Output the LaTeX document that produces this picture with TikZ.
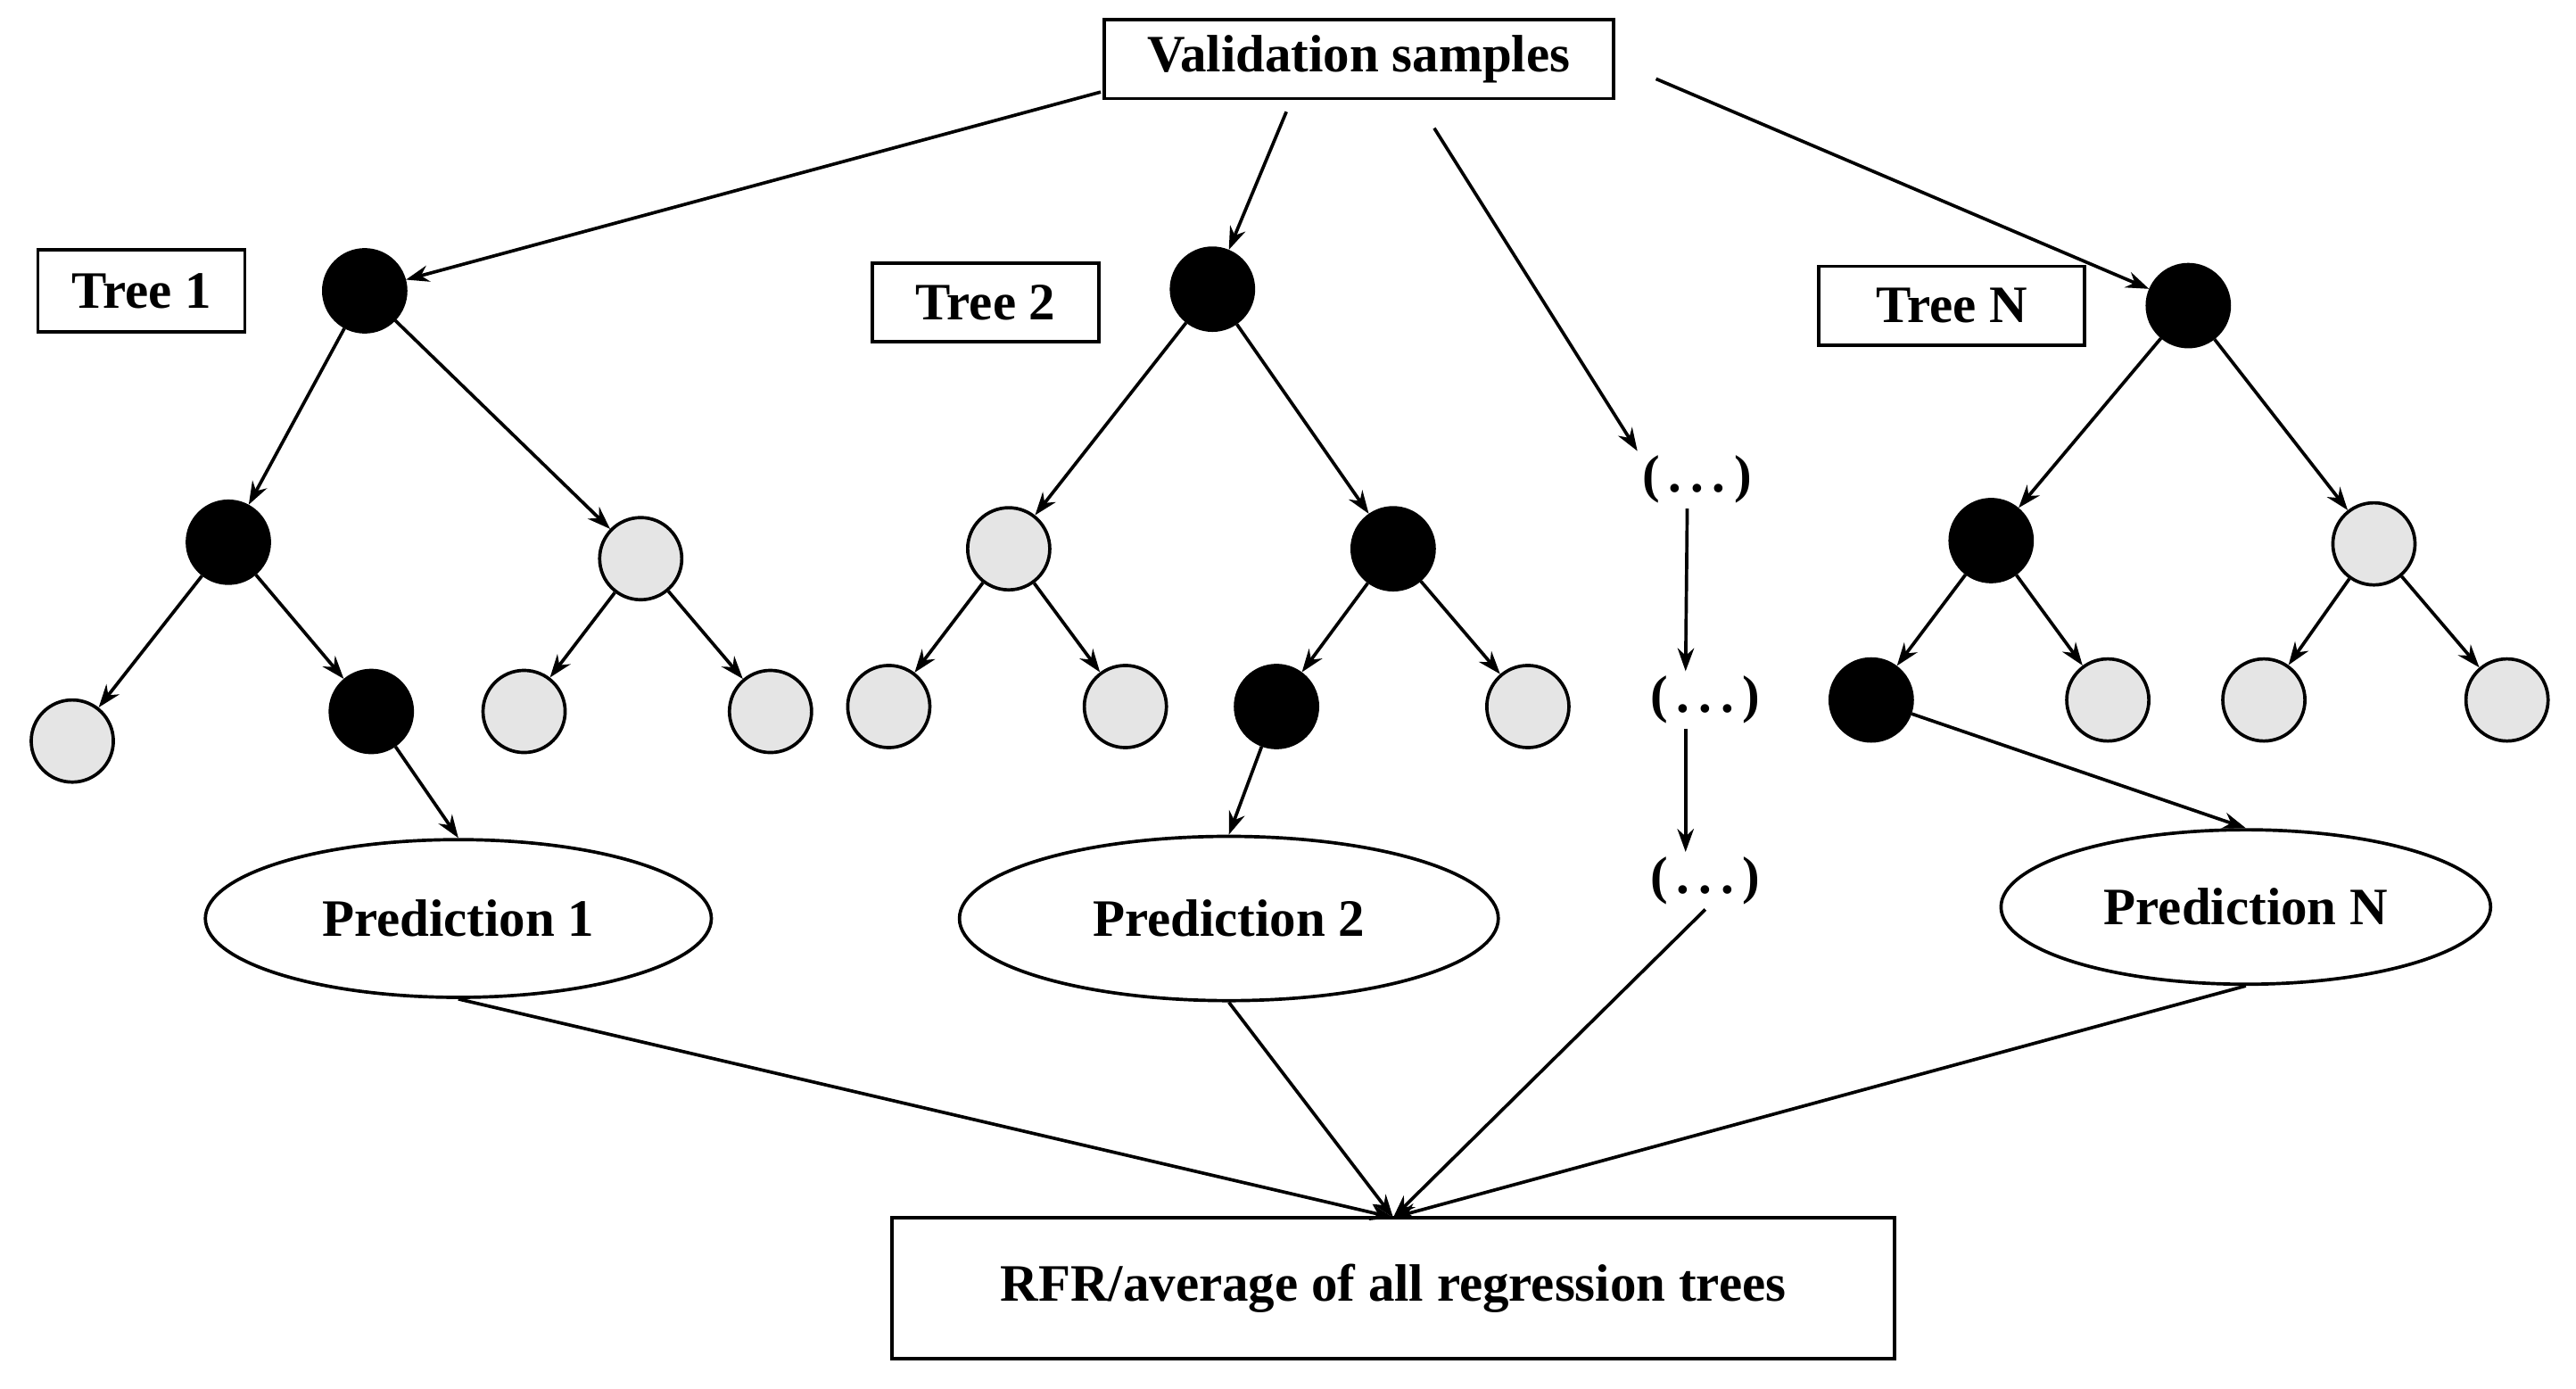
\documentclass[tikz,border=0pt]{standalone}
\usepackage{fontspec}
\setmainfont{Liberation Serif}
\usetikzlibrary{arrows.meta,shapes.geometric}
\begin{document}
\begin{tikzpicture}[x=0.5pt,y=-0.5pt,
  font=\fontsize{16}{18}\selectfont\bfseries,
  every path/.style={line width=1pt},
  arr/.style={-{Stealth[length=7pt,width=5pt]}},
  box/.style={draw,rectangle,inner sep=0pt},
  blk/.style={draw,circle,fill=black,minimum size=25pt,inner sep=0pt},
  gry/.style={draw,circle,fill=black!10,minimum size=25pt,inner sep=0pt},
  pred/.style={draw,ellipse,inner sep=0pt},
  dots/.style={inner sep=1pt}]
\useasboundingbox (0,0) rectangle (1568,845);
% boxes
\node[box,minimum width=155pt,minimum height=24pt] (vs) at (827,36) {Validation samples};
\node[box,minimum width=63pt,minimum height=25pt] (t1) at (86,177) {Tree 1};
\node[box,minimum width=69pt,minimum height=24pt] (t2) at (600,184) {Tree 2};
\node[box,minimum width=81pt,minimum height=24pt] (tn) at (1188,186) {Tree N};
\node[box,minimum width=305pt,minimum height=43pt] (rfr) at (848,784) {RFR/average of all regression trees};
% tree 1
\node[blk] (a0) at (222,177) {};
\node[blk] (a1) at (139,330) {};
\node[gry] (a2) at (390,340) {};
\node[gry] (a3) at (44,451) {};
\node[blk] (a4) at (226,433) {};
\node[gry] (a5) at (319,433) {};
\node[gry] (a6) at (469,433) {};
% tree 2
\node[blk] (b0) at (738,176) {};
\node[gry] (b1) at (614,334) {};
\node[blk] (b2) at (848,334) {};
\node[gry] (b3) at (541,430) {};
\node[gry] (b4) at (685,430) {};
\node[blk] (b5) at (777,430) {};
\node[gry] (b6) at (930,430) {};
% tree N
\node[blk] (c0) at (1332,186) {};
\node[blk] (c1) at (1212,329) {};
\node[gry] (c2) at (1445,331) {};
\node[blk] (c3) at (1139,426) {};
\node[gry] (c4) at (1283,426) {};
\node[gry] (c5) at (1378,426) {};
\node[gry] (c6) at (1526,426) {};
% dots
\node[dots] (d1) at (1033,292) {(\,.\,.\,.\,)};
\node[dots] (d2) at (1038,426) {(\,.\,.\,.\,)};
\node[dots] (d3) at (1038,536) {(\,.\,.\,.\,)};
% predictions
\node[pred,minimum width=154pt,minimum height=48pt] (p1) at (279,559) {Prediction 1};
\node[pred,minimum width=164pt,minimum height=50pt] (p2) at (748,559) {Prediction 2};
\node[pred,minimum width=149pt,minimum height=47pt] (pn) at (1367,552) {Prediction N};
% connector ends
\coordinate (v1) at (670,56);
\coordinate (v2) at (783,68);
\coordinate (v3) at (873,78);
\coordinate (v4) at (1008,48);
\coordinate (r0) at (848,741);
% connectors
\draw[arr] (v1) -- (a0);
\draw[arr] (v2) -- (b0);
\draw[arr] (v3) -- (d1.north west);
\draw[arr] (v4) -- (c0);
\foreach \t in {a,b,c}{
  \draw[arr] (\t0) -- (\t1);
  \draw[arr] (\t0) -- (\t2);
  \draw[arr] (\t1) -- (\t3);
  \draw[arr] (\t1) -- (\t4);
  \draw[arr] (\t2) -- (\t5);
  \draw[arr] (\t2) -- (\t6);
}
\draw[arr] ([xshift=-3pt]d1.south) -- ([xshift=-6pt]d2.north);
\draw[arr] ([xshift=-6pt]d2.south) -- ([xshift=-6pt]d3.north);
\draw[arr] (a4) -- (p1.north);
\draw[arr] (b5) -- (p2.north);
\draw[arr] (c3) -- (pn.north);
\draw[arr] (p1.south) -- (r0);
\draw[arr] (p2.south) -- (r0);
\draw[arr] (d3.south) -- (r0);
\draw[arr] (pn.south) -- (r0);
\end{tikzpicture}
\end{document}
